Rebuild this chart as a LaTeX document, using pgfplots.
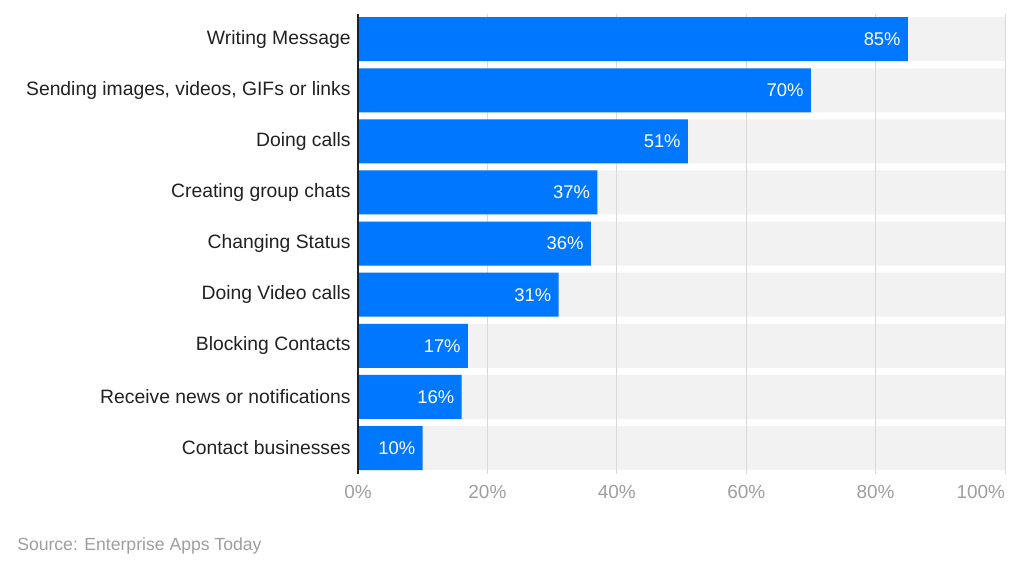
\documentclass[border=0pt]{standalone}
\usepackage{pgfplots}
\pgfplotsset{compat=1.18}
\usepackage{fontspec}
\setmainfont{Liberation Sans}
\definecolor{barblue}{HTML}{0077FF}
\definecolor{band}{HTML}{F2F2F2}
\definecolor{gridc}{HTML}{D9D9D9}
\definecolor{tickc}{HTML}{9E9E9E}
\definecolor{labc}{HTML}{212121}
\begin{document}
\begin{tikzpicture}[x=0.75pt,y=0.75pt]
\path[use as bounding box] (0,0) rectangle (1024,571);
\begin{axis}[
  at={(268.5pt,73.05pt)}, anchor=south west,
  scale only axis, width=485.25pt, height=345pt,
  xmin=0, xmax=100, ymin=-0.5, ymax=8.5, y dir=reverse,
  axis line style={draw=none}, tick style={draw=none},
  xtick={0,20,40,60,80},
  xticklabel={\pgfmathprintnumber{\tick}\%},
  xticklabel style={text=tickc, font=\fontsize{14.2pt}{16pt}\selectfont, yshift=-5pt},
  extra x ticks={100},
  extra x tick style={xticklabel style={anchor=north east, xshift=3.5pt}},
  ytick={0,1,2,3,4,5,6,7,8},
  yticklabels={Writing Message,{Sending images, videos, GIFs or links},Doing calls,Creating group chats,Changing Status,Doing Video calls,Blocking Contacts,Receive news or notifications,Contact businesses},
  yticklabel style={text=labc, font=\fontsize{14.5pt}{17pt}\selectfont, xshift=-2pt},
  /pgf/number format/assume math mode=true,
  clip=false,
]
\addplot[xbar, bar width=0.861, bar shift=0pt, fill=band, draw=none] coordinates {
  (100,0) (100,1) (100,2) (100,3) (100,4) (100,5) (100,6) (100,7) (100,8)};
\pgfplotsinvokeforeach{20,40,60,80,100}{
  \draw[gridc, line width=0.75pt] (axis cs:#1,-0.5) -- (axis cs:#1,8.5);
}
\addplot[xbar, bar width=0.861, bar shift=0pt, fill=barblue, draw=none,
  point meta=x,
  nodes near coords={\pgfmathprintnumber{\pgfplotspointmeta}\%},
  every node near coord/.append style={anchor=east, text=white, xshift=-2pt, font=\fontsize{13.8pt}{16pt}\selectfont}]
  coordinates {(85,0) (70,1) (51,2) (37,3) (36,4) (31,5) (17,6) (16,7) (10,8)};
\draw[labc, line width=1.1pt] (axis cs:0,-0.5) -- (axis cs:0,8.5);
\end{axis}
\node[anchor=base west, text=tickc, font=\fontsize{13.2pt}{15pt}\selectfont, inner sep=0pt] at (17,21) {Source: Enterprise Apps Today};
\end{tikzpicture}
\end{document}
